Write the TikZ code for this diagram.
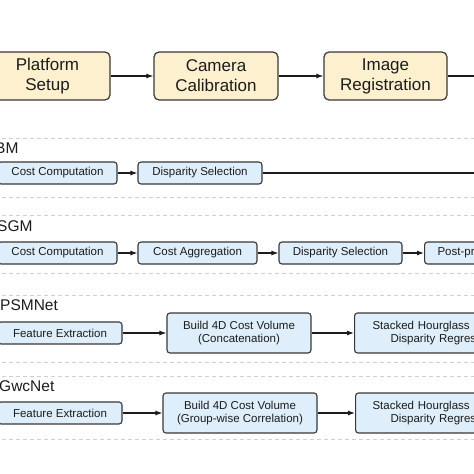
\documentclass[tikz,border=0pt]{standalone}
\usepackage{fontspec}
\setmainfont{Liberation Sans}
\usetikzlibrary{arrows.meta}
\definecolor{beige}{HTML}{FDF0CF}
\definecolor{lblue}{HTML}{DEEEFA}
\definecolor{edge}{HTML}{383838}
\definecolor{dashc}{HTML}{CFCFCF}
\definecolor{ink}{HTML}{1C1C1C}
\begin{document}
\begin{tikzpicture}[x=1pt,y=-1pt,
 topbox/.style={draw=edge, line width=1.2pt, fill=beige, rounded corners=5pt, minimum height=48pt, inner sep=0pt, align=center, font=\fontsize{17}{20}\selectfont, text=ink},
 stepbox/.style={draw=edge, line width=1.1pt, fill=lblue, rounded corners=3pt, minimum height=22pt, inner sep=0pt, align=center, font=\fontsize{11.5}{12.7}\selectfont, text=ink},
 tallbox/.style={stepbox, minimum height=40pt},
 lbl/.style={anchor=west, inner sep=0pt, font=\fontsize{15.5}{18}\selectfont, text=ink},
 sepline/.style={draw=dashc, line width=0.9pt, dash pattern=on 4pt off 3pt},
 arr/.style={draw=ink, line width=1.1pt, -{Latex[length=7pt,width=5pt]}},
 link/.style={draw=ink, line width=1.1pt}]
\useasboundingbox (0,0) rectangle (474,474);
\clip (0,0) rectangle (474,474);
\fill[white] (0,0) rectangle (474,474);

% separators
\foreach \yy in {138,197,215,273,295,362,376,439}
  \draw[sepline] (-5,\yy) -- (480,\yy);

% top row
\node[topbox, minimum width=125pt] (plat) at (47.5,76) {Platform\\Setup};
\node[topbox, minimum width=124pt] (cam) at (216,76) {Camera\\Calibration};
\node[topbox, minimum width=123pt] (img) at (385.5,76) {Image\\Registration};
\coordinate (topend) at (480,76);
\draw[arr] (plat) -- (cam);
\draw[arr] (cam) -- (img);
\draw[link] (img) -- (topend);

% BM
\node[lbl] (lbm) at (-5,148) {BM};
\node[stepbox, minimum width=119pt] (bm1) at (57.5,173) {Cost Computation};
\node[stepbox, minimum width=124pt] (bm2) at (200,173) {Disparity Selection};
\coordinate (bmend) at (480,173);
\draw[arr] (bm1) -- (bm2);
\draw[link] (bm2) -- (bmend);

% SGM
\node[lbl] (lsgm) at (-3,226) {SGM};
\node[stepbox, minimum width=119pt] (s1) at (57.5,253) {Cost Computation};
\node[stepbox, minimum width=119pt] (s2) at (197.5,253) {Cost Aggregation};
\node[stepbox, minimum width=123pt] (s3) at (340.5,253) {Disparity Selection};
\node[stepbox, anchor=west, text width=100pt, align=left, inner xsep=13pt] (s4) at (424,253) {Post-pr};
\draw[arr] (s1) -- (s2);
\draw[arr] (s2) -- (s3);
\draw[arr] (s3) -- (s4);

% PSMNet
\node[lbl] (lpsm) at (0,305) {PSMNet};
\node[stepbox, minimum width=124pt] (p1) at (60,333) {Feature Extraction};
\node[tallbox, minimum width=144pt] (p2) at (239,333) {Build 4D Cost Volume\\(Concatenation)};
\node[tallbox, anchor=west, text width=140pt, align=left, inner xsep=18pt] (p3) at (354,333) {Stacked Hourglass\\\hspace*{18pt}Disparity Regres};
\draw[arr] (p1) -- (p2);
\draw[arr] (p2) -- (p3);

% GwcNet
\node[lbl] (lgwc) at (-1,386) {GwcNet};
\node[stepbox, minimum width=124pt] (g1) at (60,413) {Feature Extraction};
\node[tallbox, minimum width=154pt] (g2) at (240,413) {Build 4D Cost Volume\\(Group-wise Correlation)};
\node[tallbox, anchor=west, text width=140pt, align=left, inner xsep=17pt] (g3) at (355,413) {Stacked Hourglass\\\hspace*{18pt}Disparity Regres};
\draw[arr] (g1) -- (g2);
\draw[arr] (g2) -- (g3);
\end{tikzpicture}
\end{document}
